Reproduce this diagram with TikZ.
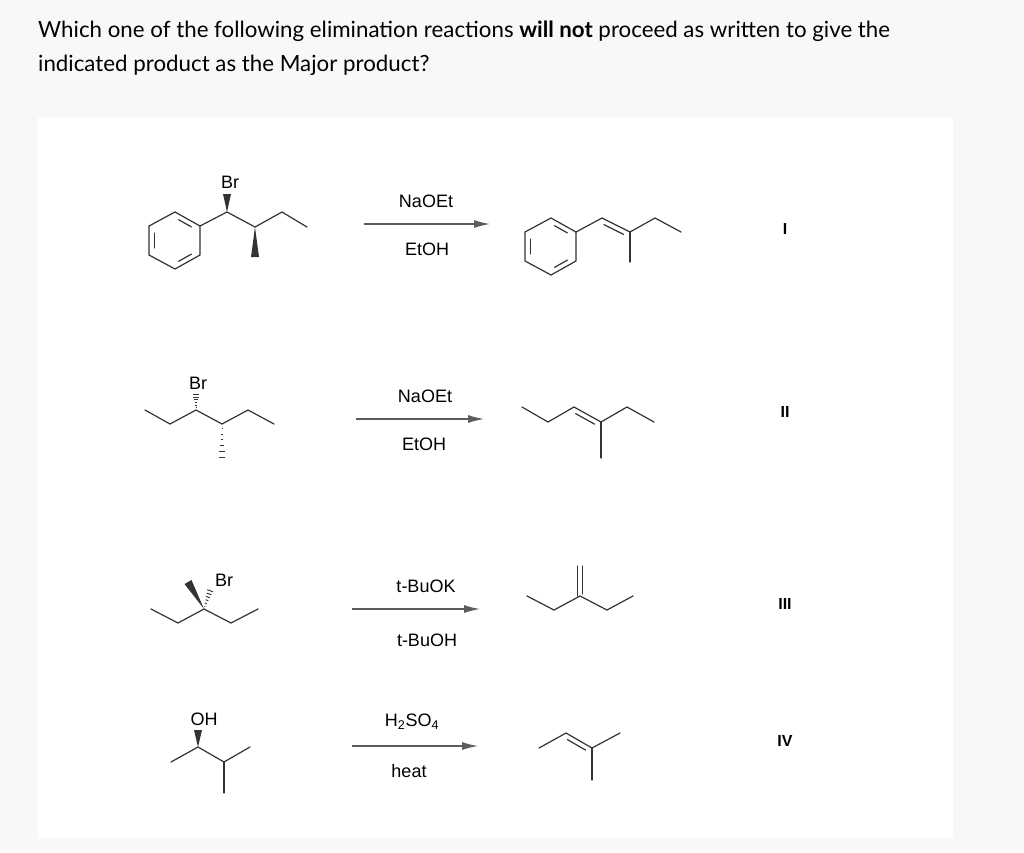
\documentclass[tikz,border=0pt]{standalone}
\usepackage{fontspec}
\setmainfont{Lato}
\newfontfamily\chemfont{Liberation Sans}
\usetikzlibrary{calc,arrows.meta}
\definecolor{pagebg}{HTML}{F9F8F7}
\definecolor{ink}{HTML}{333333}
\tikzset{
  bond/.style={draw=ink,line width=1.2pt,line cap=round},
  lbl/.style={font=\chemfont\fontsize{18}{20}\selectfont,text=black,inner sep=0pt},
  rnum/.style={font=\chemfont\bfseries\fontsize{16}{18}\selectfont,text=black,inner sep=0pt},
  rxn/.style={draw=ink!80,line width=1.3pt,-{Latex[length=16pt,width=8pt]}},
}
\newcommand{\wedgeb}[2]{\fill[ink] (#1) -- ($(#2)!4pt!90:(#1)$) -- ($(#2)!4pt!-90:(#1)$) -- cycle;}
\newcommand{\hashb}[2]{\foreach \t in {0.12,0.27,0.42,0.57,0.72,0.87,1.0}{\draw[ink,line width=1pt] ($(#1)!\t!(#2)!3.5*\t pt!90:(#2)$) -- ($(#1)!\t!(#2)!3.5*\t pt!-90:(#2)$);}}
\begin{document}
\begin{tikzpicture}[x=1pt,y=-1pt]
\fill[pagebg] (0,0) rectangle (1024,852);
\useasboundingbox (0,0) rectangle (1024,852);
\fill[white] (38,117) rectangle (953,838);
\node[anchor=west,inner sep=0pt,font=\fontsize{22.3}{25}\selectfont] (t1) at (38,31) {Which one of the following elimination reactions \textbf{will not} proceed as written to give the};
\node[anchor=west,inner sep=0pt,font=\fontsize{22.3}{25}\selectfont] (t2) at (38,65) {indicated product as the Major product?};
% ---------- Reaction I reactant
\coordinate (r1) at (175,212); \coordinate (r2) at (200,226); \coordinate (r3) at (200,255);
\coordinate (r4) at (175,269); \coordinate (r5) at (149,255); \coordinate (r6) at (149,226);
\coordinate (rc) at (175,240.5);
\draw[bond] (r1)--(r2)--(r3)--(r4)--(r5)--(r6)--cycle;
\draw[bond] ($(r1)!0.18!(r2)!0.2!(rc)$) -- ($(r2)!0.18!(r1)!0.2!(rc)$);
\draw[bond] ($(r3)!0.18!(r4)!0.2!(rc)$) -- ($(r4)!0.18!(r3)!0.2!(rc)$);
\draw[bond] ($(r5)!0.18!(r6)!0.2!(rc)$) -- ($(r6)!0.18!(r5)!0.2!(rc)$);
\coordinate (a1) at (227,212); \coordinate (a2) at (255,227); \coordinate (a3) at (282,212); \coordinate (a4) at (307,227);
\draw[bond] (r2)--(a1)--(a2)--(a3)--(a4);
\coordinate (abr) at (227,194); \coordinate (ame) at (255,257);
\wedgeb{a1}{abr}
\wedgeb{a2}{ame}
\node[lbl] (br1) at (230,182) {Br};
% arrow I
\coordinate (s1) at (364,224); \coordinate (e1) at (490,224);
\draw[rxn] (s1) -- (e1);
\node[lbl] (c1a) at (426,201) {NaOEt};
\node[lbl] (c1b) at (427,249) {EtOH};
% product I
\coordinate (p1) at (551,218); \coordinate (p2) at (576,232); \coordinate (p3) at (576,261);
\coordinate (p4) at (551,275); \coordinate (p5) at (525,261); \coordinate (p6) at (525,232);
\coordinate (pc) at (551,246.5);
\draw[bond] (p1)--(p2)--(p3)--(p4)--(p5)--(p6)--cycle;
\draw[bond] ($(p1)!0.18!(p2)!0.2!(pc)$) -- ($(p2)!0.18!(p1)!0.2!(pc)$);
\draw[bond] ($(p3)!0.18!(p4)!0.2!(pc)$) -- ($(p4)!0.18!(p3)!0.2!(pc)$);
\draw[bond] ($(p5)!0.18!(p6)!0.2!(pc)$) -- ($(p6)!0.18!(p5)!0.2!(pc)$);
\coordinate (b1) at (602,218); \coordinate (b2) at (630,232); \coordinate (b3) at (655,218); \coordinate (b4) at (681,232); \coordinate (bm) at (630,262);
\draw[bond] (p2)--(b1)--(b2)--(b3)--(b4); \draw[bond] (b2)--(bm);
\draw[bond] ($(b1)!0.15!(b2)!5pt!-90:(b2)$) -- ($(b2)!0.15!(b1)!5pt!90:(b1)$);
\node[rnum] (n1) at (785,229) {I};
% ---------- Reaction II
\coordinate (c1) at (145,410); \coordinate (c2) at (170,424); \coordinate (c3) at (196,410);
\coordinate (c4) at (222,424); \coordinate (c5) at (248,410); \coordinate (c6) at (274,424);
\draw[bond] (c1)--(c2)--(c3)--(c4)--(c5)--(c6);
\coordinate (cbr) at (196,392); \coordinate (cme) at (222,462);
\hashb{c3}{cbr}
\hashb{c4}{cme}
\node[lbl] (br2) at (198,383) {Br};
\coordinate (s2) at (356,419); \coordinate (e2) at (484,419);
\draw[rxn] (s2) -- (e2);
\node[lbl] (c2a) at (425,396) {NaOEt};
\node[lbl] (c2b) at (424,444) {EtOH};
\coordinate (d1) at (522,407); \coordinate (d2) at (548,422); \coordinate (d3) at (574,407);
\coordinate (d4) at (601,422); \coordinate (d5) at (627,407); \coordinate (d6) at (654,422); \coordinate (dm) at (601,458);
\draw[bond] (d1)--(d2)--(d3)--(d4)--(d5)--(d6); \draw[bond] (d4)--(dm);
\draw[bond] ($(d3)!0.15!(d4)!5pt!-90:(d4)$) -- ($(d4)!0.15!(d3)!5pt!90:(d3)$);
\node[rnum] (n2) at (785,412) {II};
% ---------- Reaction III
\coordinate (f1) at (151,609); \coordinate (f2) at (178,623); \coordinate (f3) at (204,609);
\coordinate (f4) at (231,623); \coordinate (f5) at (258,609);
\draw[bond] (f1)--(f2)--(f3)--(f4)--(f5);
\coordinate (fme) at (188,582); \coordinate (fbr) at (211,588);
\wedgeb{f3}{fme}
\hashb{f3}{fbr}
\node[lbl] (br3) at (224,580) {Br};
\coordinate (s3) at (352,609); \coordinate (e3) at (480,609);
\draw[rxn] (s3) -- (e3);
\node[lbl] (c3a) at (426,586) {t-BuOK};
\node[lbl] (c3b) at (427,640) {t-BuOH};
\coordinate (g1) at (527,596); \coordinate (g2) at (554,610); \coordinate (g3) at (580,596);
\coordinate (g4) at (607,610); \coordinate (g5) at (633,596); \coordinate (gt) at (580,566);
\draw[bond] (g1)--(g2)--(g3)--(g4)--(g5);
\draw[bond] ($(g3)+(-2.5,0)$) -- ($(gt)+(-2.5,0)$);
\draw[bond] ($(g3)+(2.5,-2)$) -- ($(gt)+(2.5,0)$);
\node[rnum] (n3) at (785,604) {III};
% ---------- Reaction IV
\coordinate (h1) at (171,762); \coordinate (h2) at (198,747); \coordinate (h3) at (224,762);
\coordinate (h4) at (250,747); \coordinate (h5) at (224,793); \coordinate (hoh) at (198,730);
\draw[bond] (h1)--(h2)--(h3)--(h4); \draw[bond] (h3)--(h5);
\wedgeb{h2}{hoh}
\node[lbl] (oh) at (204,719) {OH};
\coordinate (s4) at (352,746); \coordinate (e4) at (478,746);
\draw[rxn] (s4) -- (e4);
\node[lbl] (c4a) at (412,722) {H\textsubscript{2}SO\textsubscript{4}};
\node[lbl] (c4b) at (409,771) {heat};
\coordinate (k1) at (539,748); \coordinate (k2) at (566,733); \coordinate (k3) at (592,748);
\coordinate (k4) at (620,733); \coordinate (k5) at (592,780);
\draw[bond] (k1)--(k2)--(k3)--(k4); \draw[bond] (k3)--(k5);
\draw[bond] ($(k2)!0.15!(k3)!5pt!-90:(k3)$) -- ($(k3)!0.15!(k2)!5pt!90:(k2)$);
\node[rnum] (n4) at (785,741) {IV};
\end{tikzpicture}
\end{document}
